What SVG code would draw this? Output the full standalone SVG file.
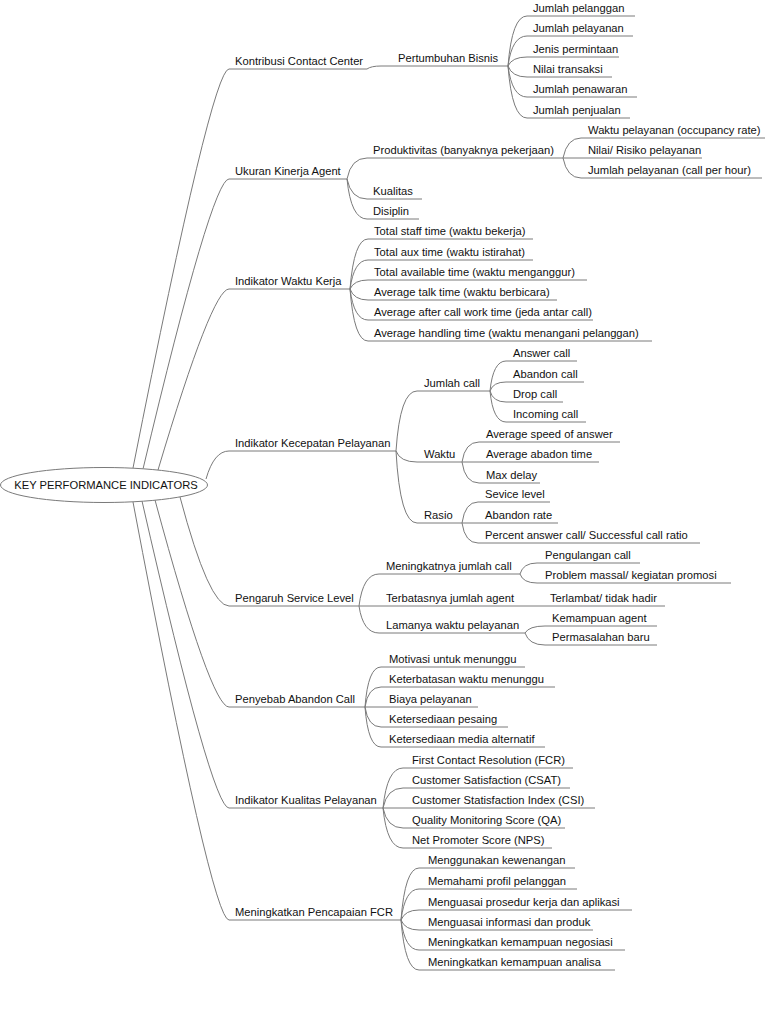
<svg xmlns="http://www.w3.org/2000/svg" width="768" height="1024" viewBox="0 0 768 1024">
<style>
text{font-family:"Liberation Sans",Arial,sans-serif;font-size:11.2px;fill:#111}
.u{stroke:#7a7a7a;stroke-width:1;fill:none}
.c path{stroke:#7a7a7a;stroke-width:1;fill:none}
.root{fill:#fff;stroke:#7a7a7a;stroke-width:1}
</style>
<rect width="768" height="1024" fill="#fff"/>
<g class="c" id="connectors">
<path d="M133,468 Q212,69 229,69"/>
<path d="M143,469 Q212,179 229,179"/>
<path d="M158,470 Q212,289 229,289"/>
<path d="M206,479 Q214,451 229,451"/>
<path d="M180,497 Q209,606 229,606"/>
<path d="M155,500 Q211,707 229,707"/>
<path d="M142,501 Q212,808 229,808"/>
<path d="M133,502 Q212,920 229,920"/>
<path d="M367,69 Q371,66 381,66"/>
<path d="M508,66 Q512,16 527,16"/>
<path d="M508,66 Q512,36 527,36"/>
<path d="M508,66 Q512,57 527,57"/>
<path d="M508,66 Q512,77 527,77"/>
<path d="M508,66 Q512,97 527,97"/>
<path d="M508,66 Q512,118 527,118"/>
<path d="M347,179 Q351,158 367,158"/>
<path d="M347,179 Q351,199 367,199"/>
<path d="M347,179 Q351,219 367,219"/>
<path d="M563,158 Q567,138 581,138"/>
<path d="M563,158 L581,158"/>
<path d="M563,158 Q567,178 581,178"/>
<path d="M350,289 Q354,239 368,239"/>
<path d="M350,289 Q354,260 368,260"/>
<path d="M350,289 Q354,280 368,280"/>
<path d="M350,289 Q354,300 368,300"/>
<path d="M350,289 Q354,320 368,320"/>
<path d="M350,289 Q354,341 368,341"/>
<path d="M396,451 Q400,391 417,391"/>
<path d="M396,451 Q400,462 417,462"/>
<path d="M396,451 Q400,523 417,523"/>
<path d="M490,391 Q493,361 506,361"/>
<path d="M490,391 Q493,382 506,382"/>
<path d="M490,391 Q493,402 506,402"/>
<path d="M490,391 Q493,422 506,422"/>
<path d="M462,462 Q465,442 479,442"/>
<path d="M462,462 L479,462"/>
<path d="M462,462 Q465,483 479,483"/>
<path d="M462,523 Q465,502 478,502"/>
<path d="M462,523 L478,523"/>
<path d="M462,523 Q465,543 478,543"/>
<path d="M359,606 Q363,574 379,574"/>
<path d="M359,606 L379,606"/>
<path d="M359,606 Q363,633 379,633"/>
<path d="M520,574 Q523,563 537,563"/>
<path d="M520,574 Q523,583 537,583"/>
<path d="M530,606 L543,606"/>
<path d="M525,633 Q529,626 545,626"/>
<path d="M525,633 Q529,645 545,645"/>
<path d="M365,707 Q368,667 381,667"/>
<path d="M365,707 Q368,687 381,687"/>
<path d="M365,707 L381,707"/>
<path d="M365,707 Q368,727 381,727"/>
<path d="M365,707 Q368,747 381,747"/>
<path d="M383,808 Q387,768 403,768"/>
<path d="M383,808 Q387,788 403,788"/>
<path d="M383,808 L403,808"/>
<path d="M383,808 Q387,828 403,828"/>
<path d="M383,808 Q387,848 403,848"/>
<path d="M401,920 Q405,868 419,868"/>
<path d="M401,920 Q405,889 419,889"/>
<path d="M401,920 Q405,910 419,910"/>
<path d="M401,920 Q405,930 419,930"/>
<path d="M401,920 Q405,950 419,950"/>
<path d="M401,920 Q405,970 419,970"/>
</g>
<g id="root">
<ellipse class="root" cx="104" cy="485" rx="103.5" ry="17.5"/>
<text x="106" y="489" text-anchor="middle">KEY PERFORMANCE INDICATORS</text>
</g>
<g id="n1"><line class="u" x1="229" y1="69" x2="367" y2="69"/><text x="235" y="65">Kontribusi Contact Center</text></g>
<g id="n1a"><line class="u" x1="381" y1="66" x2="508" y2="66"/><text x="398" y="62">Pertumbuhan Bisnis</text></g>
<g id="n1a1"><line class="u" x1="527" y1="16" x2="635" y2="16"/><text x="533" y="12">Jumlah pelanggan</text></g>
<g id="n1a2"><line class="u" x1="527" y1="36" x2="633" y2="36"/><text x="533" y="32">Jumlah pelayanan</text></g>
<g id="n1a3"><line class="u" x1="527" y1="57" x2="619" y2="57"/><text x="533" y="53">Jenis permintaan</text></g>
<g id="n1a4"><line class="u" x1="527" y1="77" x2="612" y2="77"/><text x="533" y="73">Nilai transaksi</text></g>
<g id="n1a5"><line class="u" x1="527" y1="97" x2="637" y2="97"/><text x="533" y="93">Jumlah penawaran</text></g>
<g id="n1a6"><line class="u" x1="527" y1="118" x2="630" y2="118"/><text x="533" y="114">Jumlah penjualan</text></g>
<g id="n2"><line class="u" x1="229" y1="179" x2="347" y2="179"/><text x="235" y="175">Ukuran Kinerja Agent</text></g>
<g id="n2a"><line class="u" x1="367" y1="158" x2="563" y2="158"/><text x="373" y="154">Produktivitas (banyaknya pekerjaan)</text></g>
<g id="n2a1"><line class="u" x1="581" y1="138" x2="765" y2="138"/><text x="588" y="134">Waktu pelayanan (occupancy rate)</text></g>
<g id="n2a2"><line class="u" x1="581" y1="158" x2="702" y2="158"/><text x="588" y="154">Nilai/ Risiko pelayanan</text></g>
<g id="n2a3"><line class="u" x1="581" y1="178" x2="762" y2="178"/><text x="588" y="174">Jumlah pelayanan (call per hour)</text></g>
<g id="n2b"><line class="u" x1="367" y1="199" x2="422" y2="199"/><text x="373" y="195">Kualitas</text></g>
<g id="n2c"><line class="u" x1="367" y1="219" x2="419" y2="219"/><text x="373" y="215">Disiplin</text></g>
<g id="n3"><line class="u" x1="229" y1="289" x2="350" y2="289"/><text x="235" y="285">Indikator Waktu Kerja</text></g>
<g id="n3a"><line class="u" x1="368" y1="239" x2="533" y2="239"/><text x="374" y="235">Total staff time (waktu bekerja)</text></g>
<g id="n3b"><line class="u" x1="368" y1="260" x2="533" y2="260"/><text x="374" y="256">Total aux time (waktu istirahat)</text></g>
<g id="n3c"><line class="u" x1="368" y1="280" x2="587" y2="280"/><text x="374" y="276">Total available time (waktu menganggur)</text></g>
<g id="n3d"><line class="u" x1="368" y1="300" x2="557" y2="300"/><text x="374" y="296">Average talk time (waktu berbicara)</text></g>
<g id="n3e"><line class="u" x1="368" y1="320" x2="593" y2="320"/><text x="374" y="316">Average after call work time (jeda antar call)</text></g>
<g id="n3f"><line class="u" x1="368" y1="341" x2="652" y2="341"/><text x="374" y="337">Average handling time (waktu menangani pelanggan)</text></g>
<g id="n4"><line class="u" x1="229" y1="451" x2="396" y2="451"/><text x="235" y="447">Indikator Kecepatan Pelayanan</text></g>
<g id="n4a"><line class="u" x1="417" y1="391" x2="490" y2="391"/><text x="424" y="387">Jumlah call</text></g>
<g id="n4a1"><line class="u" x1="506" y1="361" x2="577" y2="361"/><text x="513" y="357">Answer call</text></g>
<g id="n4a2"><line class="u" x1="506" y1="382" x2="584" y2="382"/><text x="513" y="378">Abandon call</text></g>
<g id="n4a3"><line class="u" x1="506" y1="402" x2="563" y2="402"/><text x="513" y="398">Drop call</text></g>
<g id="n4a4"><line class="u" x1="506" y1="422" x2="586" y2="422"/><text x="513" y="418">Incoming call</text></g>
<g id="n4b"><line class="u" x1="417" y1="462" x2="462" y2="462"/><text x="424" y="458">Waktu</text></g>
<g id="n4b1"><line class="u" x1="479" y1="442" x2="620" y2="442"/><text x="486" y="438">Average speed of answer</text></g>
<g id="n4b2"><line class="u" x1="479" y1="462" x2="599" y2="462"/><text x="486" y="458">Average abadon time</text></g>
<g id="n4b3"><line class="u" x1="479" y1="483" x2="540" y2="483"/><text x="486" y="479">Max delay</text></g>
<g id="n4c"><line class="u" x1="417" y1="523" x2="462" y2="523"/><text x="424" y="519">Rasio</text></g>
<g id="n4c1"><line class="u" x1="478" y1="502" x2="550" y2="502"/><text x="485" y="498">Sevice level</text></g>
<g id="n4c2"><line class="u" x1="478" y1="523" x2="558" y2="523"/><text x="485" y="519">Abandon rate</text></g>
<g id="n4c3"><line class="u" x1="478" y1="543" x2="700" y2="543"/><text x="485" y="539">Percent answer call/ Successful call ratio</text></g>
<g id="n5"><line class="u" x1="229" y1="606" x2="359" y2="606"/><text x="235" y="602">Pengaruh Service Level</text></g>
<g id="n5a"><line class="u" x1="379" y1="574" x2="520" y2="574"/><text x="386" y="570">Meningkatnya jumlah call</text></g>
<g id="n5a1"><line class="u" x1="537" y1="563" x2="640" y2="563"/><text x="545" y="559">Pengulangan call</text></g>
<g id="n5a2"><line class="u" x1="537" y1="583" x2="731" y2="583"/><text x="545" y="579">Problem massal/ kegiatan promosi</text></g>
<g id="n5b"><line class="u" x1="379" y1="606" x2="530" y2="606"/><text x="386" y="602">Terbatasnya jumlah agent</text></g>
<g id="n5b1"><line class="u" x1="543" y1="606" x2="665" y2="606"/><text x="550" y="602">Terlambat/ tidak hadir</text></g>
<g id="n5c"><line class="u" x1="379" y1="633" x2="525" y2="633"/><text x="386" y="629">Lamanya waktu pelayanan</text></g>
<g id="n5c1"><line class="u" x1="545" y1="626" x2="657" y2="626"/><text x="552" y="622">Kemampuan agent</text></g>
<g id="n5c2"><line class="u" x1="545" y1="645" x2="657" y2="645"/><text x="552" y="641">Permasalahan baru</text></g>
<g id="n6"><line class="u" x1="229" y1="707" x2="365" y2="707"/><text x="235" y="703">Penyebab Abandon Call</text></g>
<g id="n6a"><line class="u" x1="381" y1="667" x2="525" y2="667"/><text x="389" y="663">Motivasi untuk menunggu</text></g>
<g id="n6b"><line class="u" x1="381" y1="687" x2="555" y2="687"/><text x="389" y="683">Keterbatasan waktu menunggu</text></g>
<g id="n6c"><line class="u" x1="381" y1="707" x2="478" y2="707"/><text x="389" y="703">Biaya pelayanan</text></g>
<g id="n6d"><line class="u" x1="381" y1="727" x2="508" y2="727"/><text x="389" y="723">Ketersediaan pesaing</text></g>
<g id="n6e"><line class="u" x1="381" y1="747" x2="545" y2="747"/><text x="389" y="743">Ketersediaan media alternatif</text></g>
<g id="n7"><line class="u" x1="229" y1="808" x2="383" y2="808"/><text x="235" y="804">Indikator Kualitas Pelayanan</text></g>
<g id="n7a"><line class="u" x1="403" y1="768" x2="573" y2="768"/><text x="412" y="764">First Contact Resolution (FCR)</text></g>
<g id="n7b"><line class="u" x1="403" y1="788" x2="570" y2="788"/><text x="412" y="784">Customer Satisfaction (CSAT)</text></g>
<g id="n7c"><line class="u" x1="403" y1="808" x2="595" y2="808"/><text x="412" y="804">Customer Statisfaction Index (CSI)</text></g>
<g id="n7d"><line class="u" x1="403" y1="828" x2="565" y2="828"/><text x="412" y="824">Quality Monitoring Score (QA)</text></g>
<g id="n7e"><line class="u" x1="403" y1="848" x2="552" y2="848"/><text x="412" y="844">Net Promoter Score (NPS)</text></g>
<g id="n8"><line class="u" x1="229" y1="920" x2="401" y2="920"/><text x="235" y="916">Meningkatkan Pencapaian FCR</text></g>
<g id="n8a"><line class="u" x1="419" y1="868" x2="575" y2="868"/><text x="428" y="864">Menggunakan kewenangan</text></g>
<g id="n8b"><line class="u" x1="419" y1="889" x2="577" y2="889"/><text x="428" y="885">Memahami profil pelanggan</text></g>
<g id="n8c"><line class="u" x1="419" y1="910" x2="632" y2="910"/><text x="428" y="906">Menguasai prosedur kerja dan aplikasi</text></g>
<g id="n8d"><line class="u" x1="419" y1="930" x2="593" y2="930"/><text x="428" y="926">Menguasai informasi dan produk</text></g>
<g id="n8e"><line class="u" x1="419" y1="950" x2="625" y2="950"/><text x="428" y="946">Meningkatkan kemampuan negosiasi</text></g>
<g id="n8f"><line class="u" x1="419" y1="970" x2="615" y2="970"/><text x="428" y="966">Meningkatkan kemampuan analisa</text></g>
</svg>
